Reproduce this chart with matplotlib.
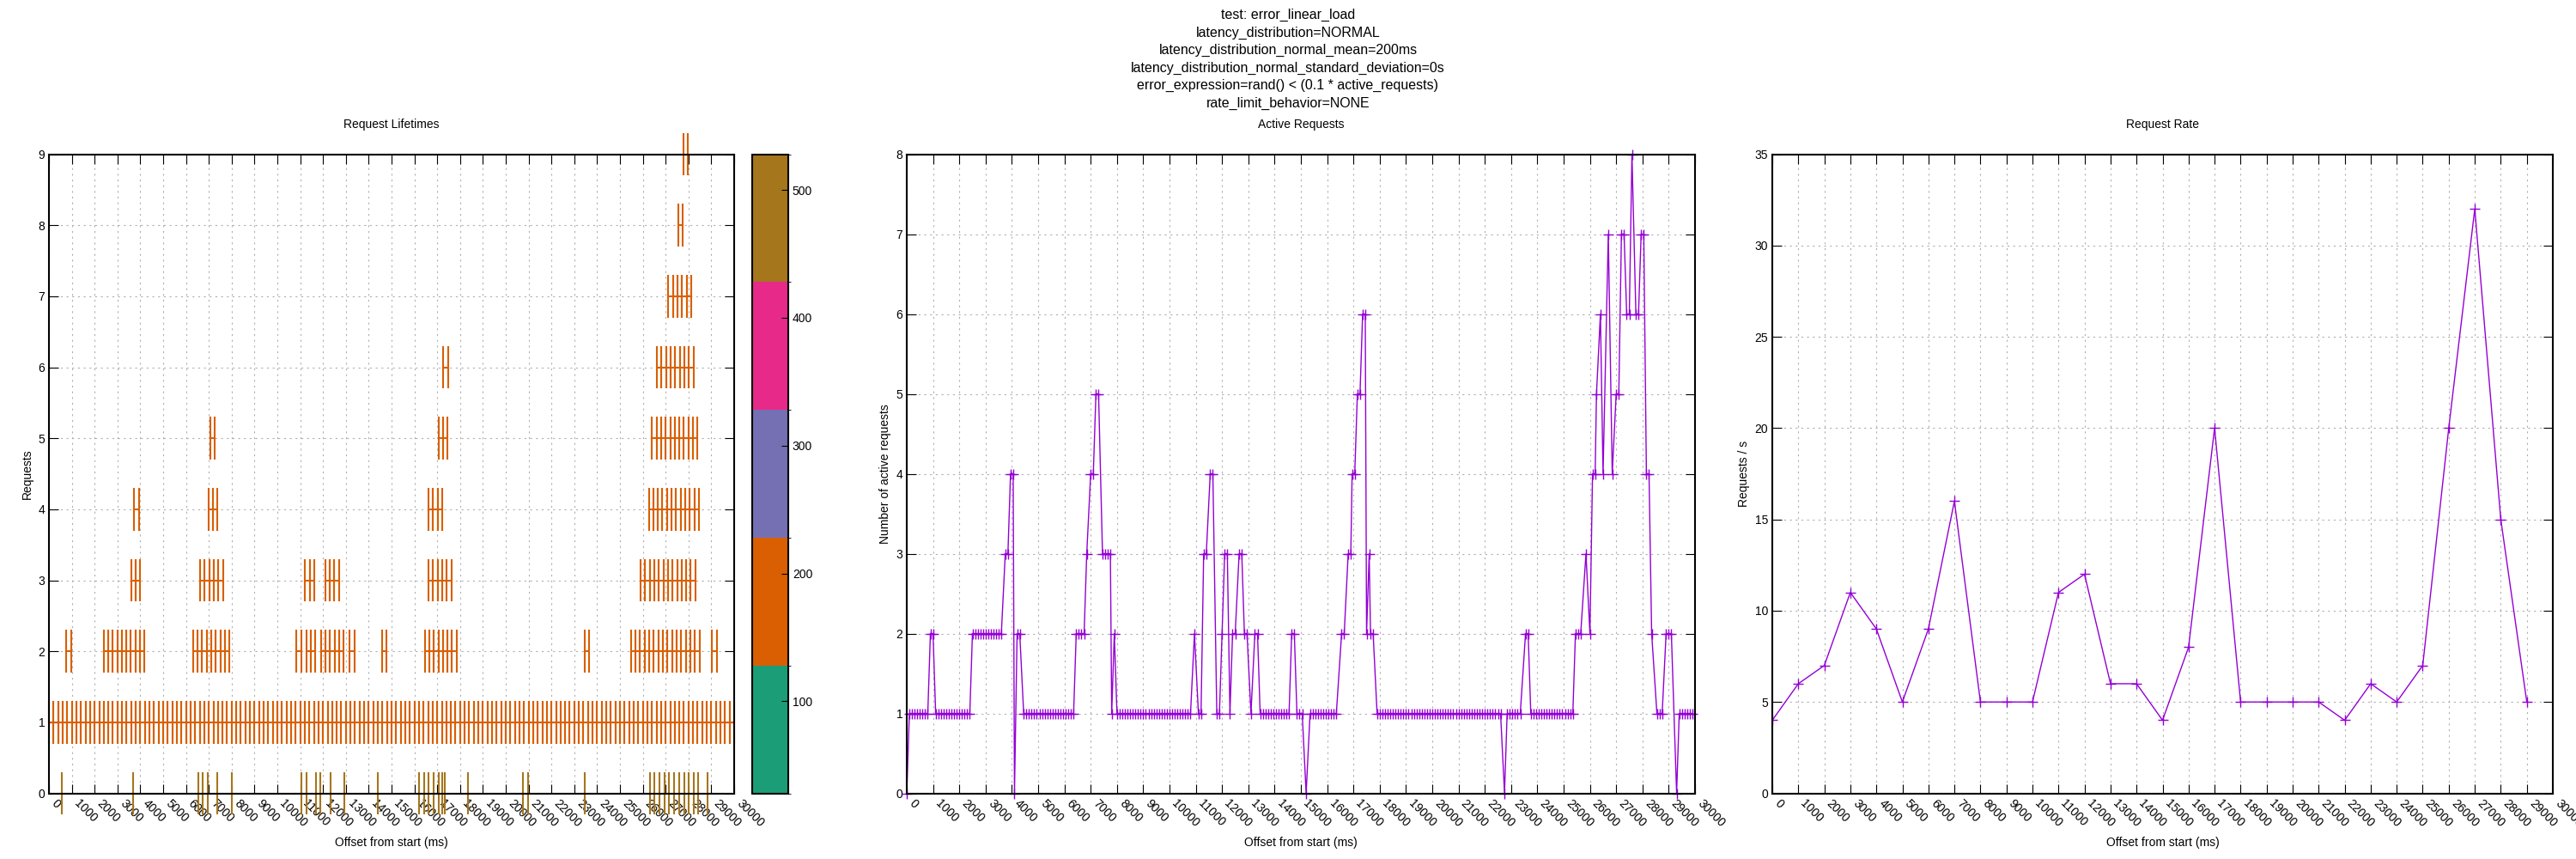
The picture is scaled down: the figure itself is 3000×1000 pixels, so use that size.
import numpy as np
import matplotlib
matplotlib.use("Agg")
from matplotlib import pyplot as plt
from matplotlib.colors import ListedColormap, BoundaryNorm
from matplotlib.cm import ScalarMappable

plt.rcParams["font.family"] = ["Liberation Sans", "DejaVu Sans"]

title_lines = [
    "test: error_linear_load",
    "latency_distribution=NORMAL",
    "latency_distribution_normal_mean=200ms",
    "latency_distribution_normal_standard_deviation=0s",
    "error_expression=rand() < (0.1 * active_requests)",
    "rate_limit_behavior=NONE",
]

# Request lifetimes: runs of back-to-back 200ms requests (row, start ms, end ms), status 200
ok_runs = [
    (1, 0, 30000),
    (2, 770, 1030), (2, 2390, 4320), (2, 6300, 7980), (2, 10840, 11100),
    (2, 11270, 11700), (2, 11900, 13000), (2, 13170, 13400), (2, 14580, 14800),
    (2, 16450, 17960), (2, 23440, 23650), (2, 25480, 28620), (2, 29030, 29250),
    (3, 3600, 4100), (3, 6620, 7700), (3, 11220, 11730), (3, 12090, 12730),
    (3, 16620, 17770), (3, 25900, 28490),
    (4, 3740, 4100), (4, 6980, 7480), (4, 16620, 17410), (4, 26260, 28490),
    (5, 7050, 7340), (5, 17050, 17480), (5, 26400, 28420),
    (6, 17270, 17480), (6, 26620, 28270),
    (7, 27120, 28200),
    (8, 27550, 27840),
    (9, 27770, 27990),
]
request_ms = 200
# failed requests (status 500), zero duration, row 0
error_times = [580, 3680, 6540, 6730, 6950, 7380, 8000, 11050, 11270, 11700, 11890,
               12320, 12950, 14390, 16210, 16430, 16620, 16840, 17050, 17230, 17330,
               18340, 20770, 20990, 23440, 26300, 26520, 26730, 26950, 27160, 27380,
               27590, 27810, 28020, 28240, 28410, 28840]

# Active requests: flat runs (start ms, end ms, active count)
active_runs = [
    (0, 0, 0), (100, 850, 1), (900, 1050, 2), (1100, 2400, 1), (2500, 3650, 2),
    (3750, 3850, 3), (3950, 4050, 4), (4100, 4100, 0), (4200, 4350, 2),
    (4450, 6350, 1), (6450, 6750, 2), (6850, 6850, 3), (7000, 7100, 4),
    (7200, 7350, 5), (7450, 7750, 3), (7800, 7800, 1), (7900, 7900, 2),
    (8000, 10800, 1), (10950, 10950, 2), (11100, 11200, 1), (11300, 11450, 3),
    (11550, 11650, 4), (11800, 11950, 1), (12000, 12000, 2), (12100, 12250, 3),
    (12300, 12300, 1), (12400, 12500, 2), (12650, 12800, 3), (12850, 12950, 2),
    (13100, 13100, 1), (13250, 13350, 2), (13450, 14550, 1), (14650, 14750, 2),
    (14850, 15100, 1), (15200, 15200, 0), (15350, 16400, 1), (16550, 16650, 2),
    (16800, 16900, 3), (16950, 17100, 4), (17150, 17300, 5), (17350, 17450, 6),
    (17500, 17500, 2), (17600, 17600, 3), (17650, 17800, 2), (17900, 22650, 1),
    (22750, 22750, 0), (22850, 23400, 1), (23550, 23650, 2), (23750, 25350, 1),
    (25450, 25650, 2), (25850, 25850, 3), (26000, 26000, 2), (26100, 26200, 4),
    (26250, 26250, 5), (26400, 26400, 6), (26500, 26500, 4), (26700, 26700, 7),
    (26850, 26850, 4), (27000, 27100, 5), (27200, 27300, 7), (27400, 27500, 6),
    (27600, 27600, 8), (27750, 27850, 6), (27950, 28050, 7), (28150, 28250, 4),
    (28350, 28400, 2), (28550, 28800, 1), (28900, 29100, 2), (29300, 29300, 0),
    (29400, 29900, 1),
]

rate_t = [0, 1000, 2000, 3000, 4000, 5000, 6000, 7000, 8000, 9000, 10000, 11000,
          12000, 13000, 14000, 15000, 16000, 17000, 18000, 19000, 20000, 21000,
          22000, 23000, 24000, 25000, 26000, 27000, 28000, 29000]
rate_v = [4, 6, 7, 11, 9, 5, 9, 16, 5, 5, 5, 11, 12, 6, 6, 4, 8, 20, 5, 5, 5, 5,
          4, 6, 5, 7, 20, 32, 15, 5]

status_colors = ["#1b9e77", "#d95f02", "#7570b3", "#e7298a", "#a6761d"]
status_bounds = [28, 128, 228, 328, 428, 528]
purple = "#9400d3"
FS = 10


def style(ax, ymax, ystep):
    ax.set_xlim(0, 30000)
    ax.set_ylim(0, ymax)
    ax.set_xticks(np.arange(0, 30001, 1000))
    ax.set_yticks(np.arange(0, ymax + 0.01, ystep))
    ax.tick_params(direction="in", top=True, right=True, length=8, labelsize=FS)
    for lab in ax.get_xticklabels():
        lab.set_rotation(-45)
        lab.set_ha("left")
        lab.set_va("top")
    ax.grid(True, color="#b0b0b0", linestyle=(0, (2, 4)), linewidth=0.8)
    for s in ax.spines.values():
        s.set_linewidth(1.5)
    ax.set_xlabel("Offset from start (ms)", fontsize=FS, labelpad=6)


fig = plt.figure(figsize=(30, 10), dpi=100)
fig.text(0.5, 0.99, "\n".join(title_lines), ha="center", va="top", fontsize=11.5, linespacing=1.45)

# Request lifetimes
ax1 = fig.add_axes([0.019, 0.0765, 0.266, 0.744])
style(ax1, 9, 1)
cmap = ListedColormap(status_colors)
norm = BoundaryNorm(status_bounds, cmap.N)
ok_col = cmap(norm(200))
err_col = cmap(norm(500))
for row, t0, t1 in ok_runs:
    starts = np.arange(t0, t1 - request_ms + 1, request_ms)
    ax1.hlines([row] * len(starts), starts, starts + request_ms, color=ok_col, lw=1.5, clip_on=False)
    caps = np.concatenate([starts, starts + request_ms])
    ax1.vlines(caps, row - 0.3, row + 0.3, color=ok_col, lw=1.5, clip_on=False)
ax1.vlines(error_times, -0.3, 0.3, color=err_col, lw=1.5, clip_on=False)
ax1.set_ylabel("Requests", fontsize=FS)
ax1.set_title("Request Lifetimes", fontsize=FS, pad=22)

cax = fig.add_axes([0.292, 0.0765, 0.014, 0.744])
cb = fig.colorbar(ScalarMappable(norm=norm, cmap=cmap), cax=cax, ticks=[100, 200, 300, 400, 500])
cb.ax.tick_params(labelsize=FS, direction="in", length=6)
cb.outline.set_linewidth(1.5)

# Active requests
ax2 = fig.add_axes([0.352, 0.0765, 0.306, 0.744])
style(ax2, 8, 1)
at, av = [], []
for t0, t1, v in active_runs:
    pts = np.arange(t0, t1 + 1, 100) if t1 > t0 else [t0]
    at.extend(pts)
    av.extend([v] * len(pts))
ax2.plot(at, av, color=purple, lw=1, marker="+", ms=9, mew=1, clip_on=False)
ax2.set_ylabel("Number of active requests", fontsize=FS)
ax2.set_title("Active Requests", fontsize=FS, pad=22)

# Request rate
ax3 = fig.add_axes([0.688, 0.0765, 0.303, 0.744])
style(ax3, 35, 5)
ax3.plot(rate_t, rate_v, color=purple, lw=1, marker="+", ms=9, mew=1)
ax3.set_ylabel("Requests / s", fontsize=FS)
ax3.set_title("Request Rate", fontsize=FS, pad=22)

fig.savefig("out.png", dpi=100)
